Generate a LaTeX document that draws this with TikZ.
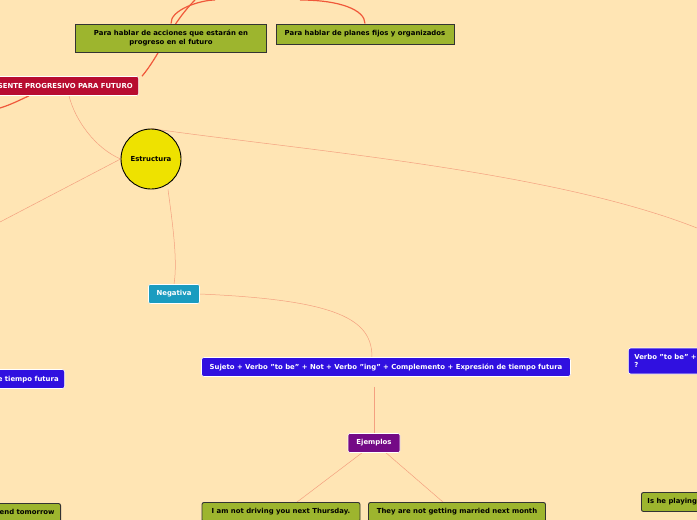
\documentclass[tikz,border=0pt]{standalone}
\usepackage{fontspec}
\setmainfont{DejaVu Sans}
\usetikzlibrary{backgrounds}
\begin{document}
\begin{tikzpicture}[x=1pt,y=-1pt,
  every node/.style={font=\bfseries\fontsize{6.9}{8.4}\selectfont, inner sep=0pt},
  grn/.style={draw=black!80, line width=0.9pt, fill=gg, text=black, minimum height=19pt, inner xsep=6pt},
  grnr/.style={grn, rounded corners=2pt},
  blu/.style={fill=bl, text=white, rounded corners=2.5pt, draw=white, line width=0.6pt, minimum height=19pt, inner xsep=6pt},
  thin/.style={draw=cn, line width=0.5pt},
  thick/.style={draw=ck, line width=1.2pt}]
\definecolor{gg}{HTML}{9DB52E}
\definecolor{bg}{HTML}{FFE5B4}
\definecolor{bl}{HTML}{3010E0}
\definecolor{cn}{HTML}{F4A080}
\definecolor{ck}{HTML}{F0583A}
\definecolor{rd}{HTML}{B80C30}
\definecolor{tl}{HTML}{1A9CC0}
\definecolor{pu}{HTML}{740A86}
\useasboundingbox (0,0) rectangle (697,520);
\coordinate (t1) at (195,0);
\coordinate (t2) at (300,0);
\coordinate (lft) at (0,108);
\coordinate (le) at (0,222);
\coordinate (re) at (697,228);
\node[grn, align=center, minimum width=191pt, minimum height=28pt] (g1) at (171,38) {Para hablar de acciones que estarán en\\progreso en el futuro};
\node[grn, minimum width=178pt, minimum height=20pt] (g2) at (365,34) {Para hablar de planes fijos y organizados};
\node[fill=rd, text=white, draw=white, line width=0.6pt, rounded corners=2pt, minimum height=19pt, inner xsep=6pt, anchor=east] (pp) at (139,86) {PRESENTE PROGRESIVO PARA FUTURO};
\node[circle, draw=black, line width=0.9pt, fill=yellow!85!olive, minimum size=60pt] (es) at (151,159) {Estructura};
\node[fill=tl, text=white, rounded corners=2pt, draw=white, line width=0.6pt, minimum height=19pt, minimum width=51pt] (neg) at (174,294) {Negativa};
\node[blu, minimum width=369pt] (suj) at (386,367) {Sujeto + Verbo "to be" + Not + Verbo "ing" + Complemento + Expresión de tiempo futura};
\node[blu, anchor=east] (af) at (65,379) {Sujeto + Verbo "to be" + Verbo "ing" + Complemento + Expresión de tiempo futura};
\node[blu, anchor=west, align=left, minimum height=26pt] (int) at (628,361) {Verbo "to be" + Sujeto + Verbo "ing" + Complemento + Expresión de tiempo futura\\?};
\node[fill=pu, text=white, rounded corners=2pt, draw=white, line width=0.6pt, minimum height=19pt, minimum width=52pt] (ej) at (374,443) {Ejemplos};
\node[grnr, minimum width=158pt] (e1) at (281,512) {I am not driving you next Thursday.};
\node[grnr, minimum width=177pt] (e2) at (457,512) {They are not getting married next month};
\node[grnr, anchor=east] (e0) at (61,513) {I am meeting my friend tomorrow};
\node[grnr, anchor=west] (e3) at (641,502) {Is he playing football tomorrow?};
\begin{scope}[on background layer]
\fill[bg] (0,0) rectangle (697,520);
\draw[thick] ([xshift=3pt]pp.north east) .. controls (160,55) and (170,25) .. (t1);
\draw[thick] (g1.north) .. controls (170,10) and (200,0) .. (215,0);
\draw[thick] (g2.north) .. controls (365,10) and (340,0) .. (t2);
\draw[thick] ([xshift=-110pt]pp.south east) .. controls (20,100) and (10,105) .. (lft);
\draw[thin] ([xshift=-70pt]pp.south east) .. controls (75,120) and (95,148) .. (es.west);
\draw[thin] (es.west) -- (le);
\draw[thin] (es.north) .. controls (300,150) and (550,170) .. (re);
\draw[thin] ([xshift=17pt]es.south) .. controls (172,220) and (178,260) .. (neg.north);
\draw[thin] (neg.east) .. controls (340,300) and (372,320) .. (suj.north -| 372,0);
\draw[thin] ([yshift=-10pt]suj.south -| 374,0) -- (ej.north);
\draw[thin] ([xshift=-12pt]ej.south) -- ([xshift=16pt]e1.north);
\draw[thin] ([xshift=12pt]ej.south) -- ([xshift=-14pt]e2.north);
\end{scope}
\end{tikzpicture}
\end{document}
